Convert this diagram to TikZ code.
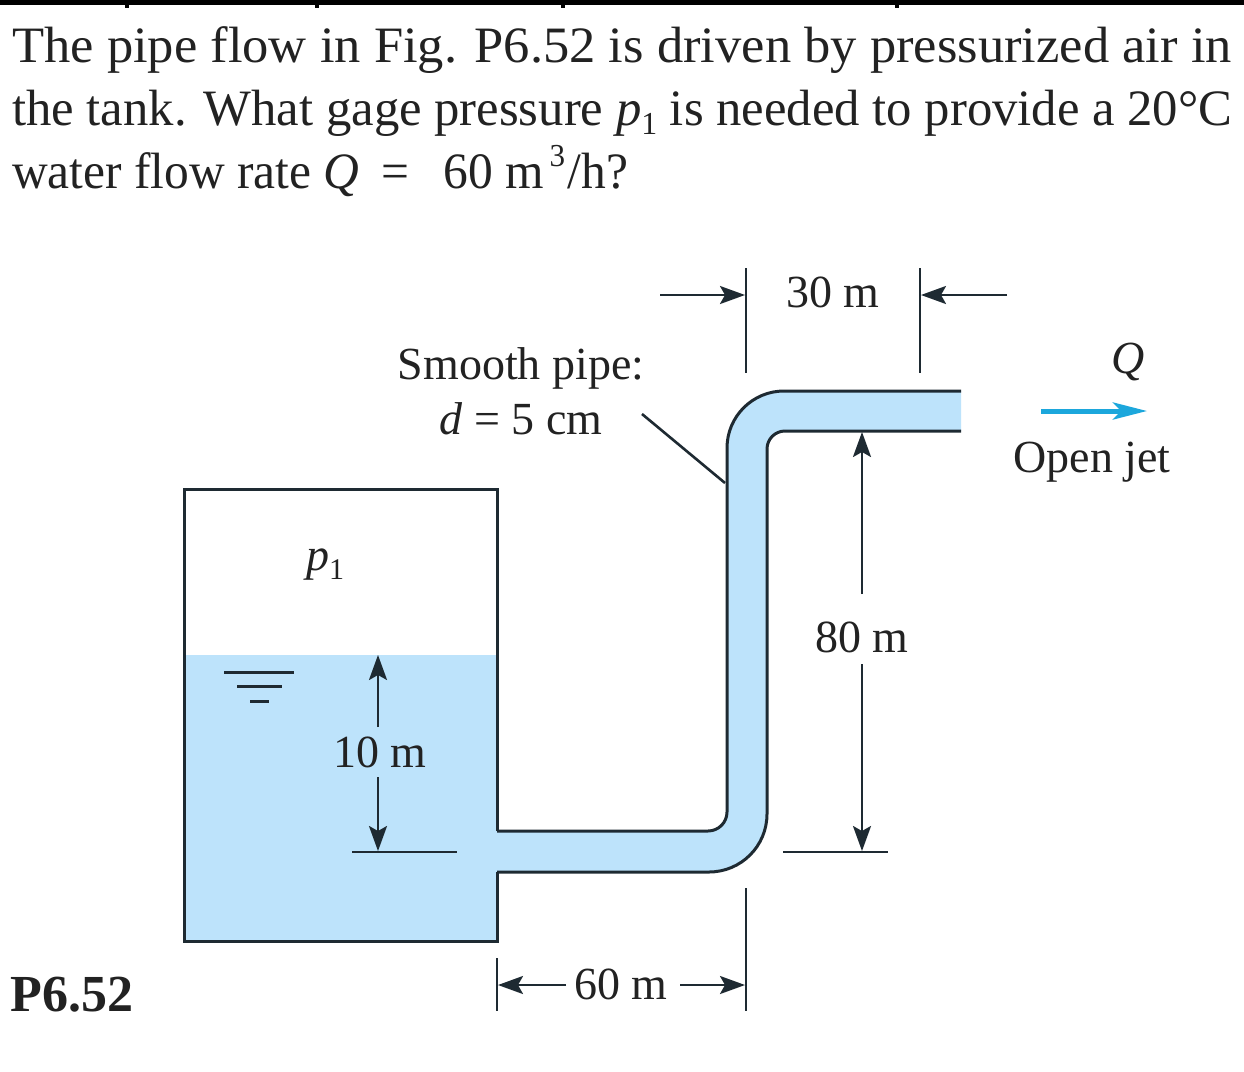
\documentclass[tikz,border=0pt]{standalone}
\usepackage{fontspec}
\setmainfont{Liberation Serif}
\usetikzlibrary{arrows.meta}
\definecolor{water}{HTML}{BDE3FB}
\definecolor{ink}{HTML}{1E2A32}
\definecolor{jet}{HTML}{1CA7DC}
\definecolor{txt}{HTML}{222222}
\newcommand{\fsz}[1]{\fontsize{#1}{#1}\selectfont}
\tikzset{
  wall/.style={draw=ink,line width=3pt,line join=miter},
  dimline/.style={draw=ink,line width=2.4pt},
  dimarrow/.style={draw=ink,line width=2.4pt,-{Stealth[length=25pt,width=18pt,inset=5pt]}},
  para/.style={anchor=base west,inner sep=0pt,text=txt,font=\fsz{51}},
  figtext/.style={inner sep=0pt,text=txt,font=\fsz{46}},
  leader/.style={draw=ink,line width=2.6pt}
}
\begin{document}
\begin{tikzpicture}[x=1pt,y=-1pt]
\useasboundingbox (0,0) rectangle (1244,1071);
\fill[white] (0,0) rectangle (1244,1071);
% top bar
\fill[black] (0,0) rectangle (1244,5);
\foreach \tx in {127,317,563,897}{\fill[black] (\tx-2,5) rectangle (\tx+2,8);}
% paragraph
\node[para] (l1) at (12,62) {\scalebox{1.03}[1]{The pipe flow in Fig. P6.52 is driven by pressurized air in}};
\node[para] (l2) at (12,125) {\scalebox{0.994}[1]{the tank. What gage pressure \textit{p}\raisebox{-9pt}{\fsz{32}1} is needed to provide a 20°C}};
\node[para] (l3) at (12,188) {\scalebox{0.97}[1]{water flow rate \textit{Q}\hspace{10pt} = \hspace{22pt}60 m\hspace{6pt}\raisebox{22pt}{\fsz{32}3}\hspace{3pt}/h?}};
% water
\fill[water] (184,655) rectangle (497,941);
\fill[water] (497,831) -- (708,831) arc[start angle=90,end angle=0,radius=19] -- (727,448) arc[start angle=180,end angle=270,radius=57] -- (961,391) -- (961,431) -- (785,431) arc[start angle=270,end angle=180,radius=18] -- (767,814) arc[start angle=0,end angle=90,radius=58] -- (497,872) -- cycle;
% tank + pipe outlines
\draw[wall] (497,831) -- (497,489) -- (184,489) -- (184,941) -- (497,941) -- (497,872);
\draw[wall] (497,831) -- (708,831) arc[start angle=90,end angle=0,radius=19] -- (727,448) arc[start angle=180,end angle=270,radius=57] -- (961,391);
\draw[wall] (497,872) -- (709,872) arc[start angle=90,end angle=0,radius=58] -- (767,449) arc[start angle=180,end angle=270,radius=18] -- (961,431);
% free surface symbol
\coordinate (s1a) at (224,672); \coordinate (s1b) at (294,672);
\coordinate (s2a) at (237,686); \coordinate (s2b) at (282,686);
\coordinate (s3a) at (250,701); \coordinate (s3b) at (269,701);
\draw[dimline,line width=3pt] (s1a) -- (s1b);
\draw[dimline,line width=3pt] (s2a) -- (s2b);
\draw[dimline,line width=3pt] (s3a) -- (s3b);
% labels
\node[figtext] (smooth) at (521,368) {Smooth pipe:};
\node[figtext] (dlab) at (521,419) {\textit{d} = 5 cm};
\node[figtext] (p1) at (325,565) {\textit{p}\raisebox{-9pt}{\fsz{30}1}};
\node[figtext] (ten) at (380,752) {10 m};
\node[figtext] (eighty) at (862,637) {80 m};
\node[figtext] (thirty) at (833,292) {30 m};
\node[figtext] (sixty) at (621,984) {60 m};
\node[figtext] (qlab) at (1128,362) {\textit{Q}};
\node[figtext] (open) at (1092,462) {Open jet};
\node[figtext,font=\fsz{52}\bfseries] (fig) at (72,995) {P6.52};
% leader
\coordinate (la) at (642,414); \coordinate (lb) at (725,483);
\draw[leader] (la) -- (lb);
% 30 m dimension
\coordinate (e30a) at (746,268); \coordinate (e30b) at (746,373);
\coordinate (e30c) at (920,268); \coordinate (e30d) at (920,373);
\coordinate (a30a) at (660,295); \coordinate (a30b) at (745,295);
\coordinate (a30c) at (1007,295); \coordinate (a30d) at (921,295);
\draw[dimline] (e30a) -- (e30b);
\draw[dimline] (e30c) -- (e30d);
\draw[dimarrow] (a30a) -- (a30b);
\draw[dimarrow] (a30c) -- (a30d);
% 80 m dimension
\coordinate (e80a) at (783,852); \coordinate (e80b) at (888,852);
\coordinate (a80t) at (862,432); \coordinate (a80b) at (862,851);
\coordinate (g80a) at (862,594); \coordinate (g80b) at (862,664);
\draw[dimline] (e80a) -- (e80b);
\draw[dimarrow] (g80a) -- (a80t);
\draw[dimarrow] (g80b) -- (a80b);
% 10 m dimension
\coordinate (e10a) at (352,852); \coordinate (e10b) at (457,852);
\coordinate (a10t) at (378,655); \coordinate (a10b) at (378,851);
\coordinate (g10a) at (378,727); \coordinate (g10b) at (378,777);
\draw[dimline] (e10a) -- (e10b);
\draw[dimarrow] (g10a) -- (a10t);
\draw[dimarrow] (g10b) -- (a10b);
% 60 m dimension
\coordinate (e60a) at (497,958); \coordinate (e60b) at (497,1011);
\coordinate (e60c) at (746,888); \coordinate (e60d) at (746,1011);
\coordinate (a60l) at (498,985); \coordinate (a60r) at (745,985);
\coordinate (g60a) at (566,985); \coordinate (g60b) at (680,985);
\draw[dimline] (e60a) -- (e60b);
\draw[dimline] (e60c) -- (e60d);
\draw[dimarrow] (g60a) -- (a60l);
\draw[dimarrow] (g60b) -- (a60r);
% jet arrow
\coordinate (ja) at (1041,411); \coordinate (jb) at (1147,411);
\draw[jet,line width=5pt,-{Stealth[length=34pt,width=17pt,inset=8pt]}] (ja) -- (jb);
\end{tikzpicture}
\end{document}
